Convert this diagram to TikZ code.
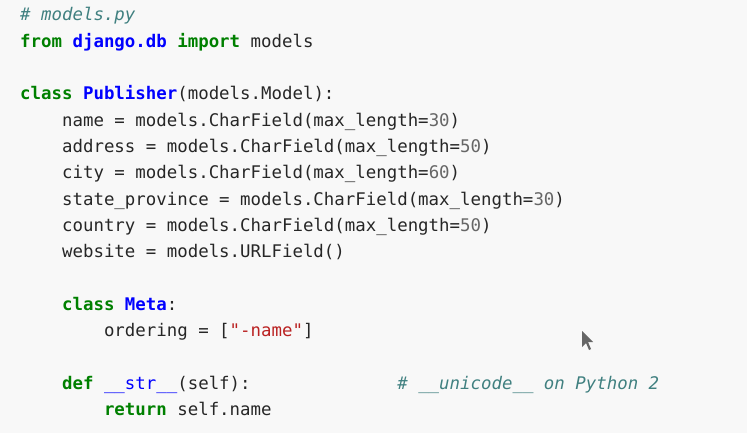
\documentclass[tikz,border=0pt]{standalone}
\usepackage{fontspec}
\setmonofont{DejaVu Sans Mono}
\definecolor{bgc}{HTML}{F8F8F8}
\definecolor{kwc}{HTML}{008000}
\definecolor{cnc}{HTML}{0000FF}
\definecolor{numc}{HTML}{666666}
\definecolor{strc}{HTML}{BA2121}
\definecolor{cmc}{HTML}{408080}
\newcommand{\kw}[1]{\textcolor{kwc}{\textbf{#1}}}
\newcommand{\cn}[1]{\textcolor{cnc}{\textbf{#1}}}
\newcommand{\nm}[1]{\textcolor{numc}{#1}}
\newcommand{\st}[1]{\textcolor{strc}{#1}}
\newcommand{\cm}[1]{\textcolor{cmc}{\textit{#1}}}
\begin{document}
\begin{tikzpicture}[x=1pt,y=-1pt,
  code/.style={anchor=base west,inner sep=0pt,font=\fontsize{17.4}{20}\ttfamily,text=black!85}]
\fill[bgc] (0,0) rectangle (747,433);
\useasboundingbox (0,0) rectangle (747,433);
\def\ys{26.3}
\node[code] (l1) at (20,21) {\cm{\# models.py}};
\node[code] (l2) at (20,21+\ys) {\kw{from} \cn{django.db} \kw{import} models};
\node[code] (l4) at (20,21+3*\ys) {\kw{class} \cn{Publisher}(models.Model):};
\node[code] (l5) at (20,21+4*\ys) {\ \ \ \ name = models.CharField(max\_length=\nm{30})};
\node[code] (l6) at (20,21+5*\ys) {\ \ \ \ address = models.CharField(max\_length=\nm{50})};
\node[code] (l7) at (20,21+6*\ys) {\ \ \ \ city = models.CharField(max\_length=\nm{60})};
\node[code] (l8) at (20,21+7*\ys) {\ \ \ \ state\_province = models.CharField(max\_length=\nm{30})};
\node[code] (l9) at (20,21+8*\ys) {\ \ \ \ country = models.CharField(max\_length=\nm{50})};
\node[code] (l10) at (20,21+9*\ys) {\ \ \ \ website = models.URLField()};
\node[code] (l12) at (20,21+11*\ys) {\ \ \ \ \kw{class} \cn{Meta}:};
\node[code] (l13) at (20,21+12*\ys) {\ \ \ \ \ \ \ \ ordering = [\st{"-name"}]};
\node[code] (l15) at (20,21+14*\ys) {\ \ \ \ \kw{def} \textcolor{cnc}{\_\_str\_\_}(self):\ \ \ \ \ \ \ \ \ \ \ \ \ \ \cm{\# \_\_unicode\_\_ on Python 2}};
\node[code] (l16) at (20,21+15*\ys) {\ \ \ \ \ \ \ \ \kw{return} self.name};
% mouse pointer
\fill[black!60] (582,331) -- (582,347) -- (586,343) -- (589,350) -- (591,349) -- (588,342) -- (593,342) -- cycle;
\end{tikzpicture}
\end{document}
